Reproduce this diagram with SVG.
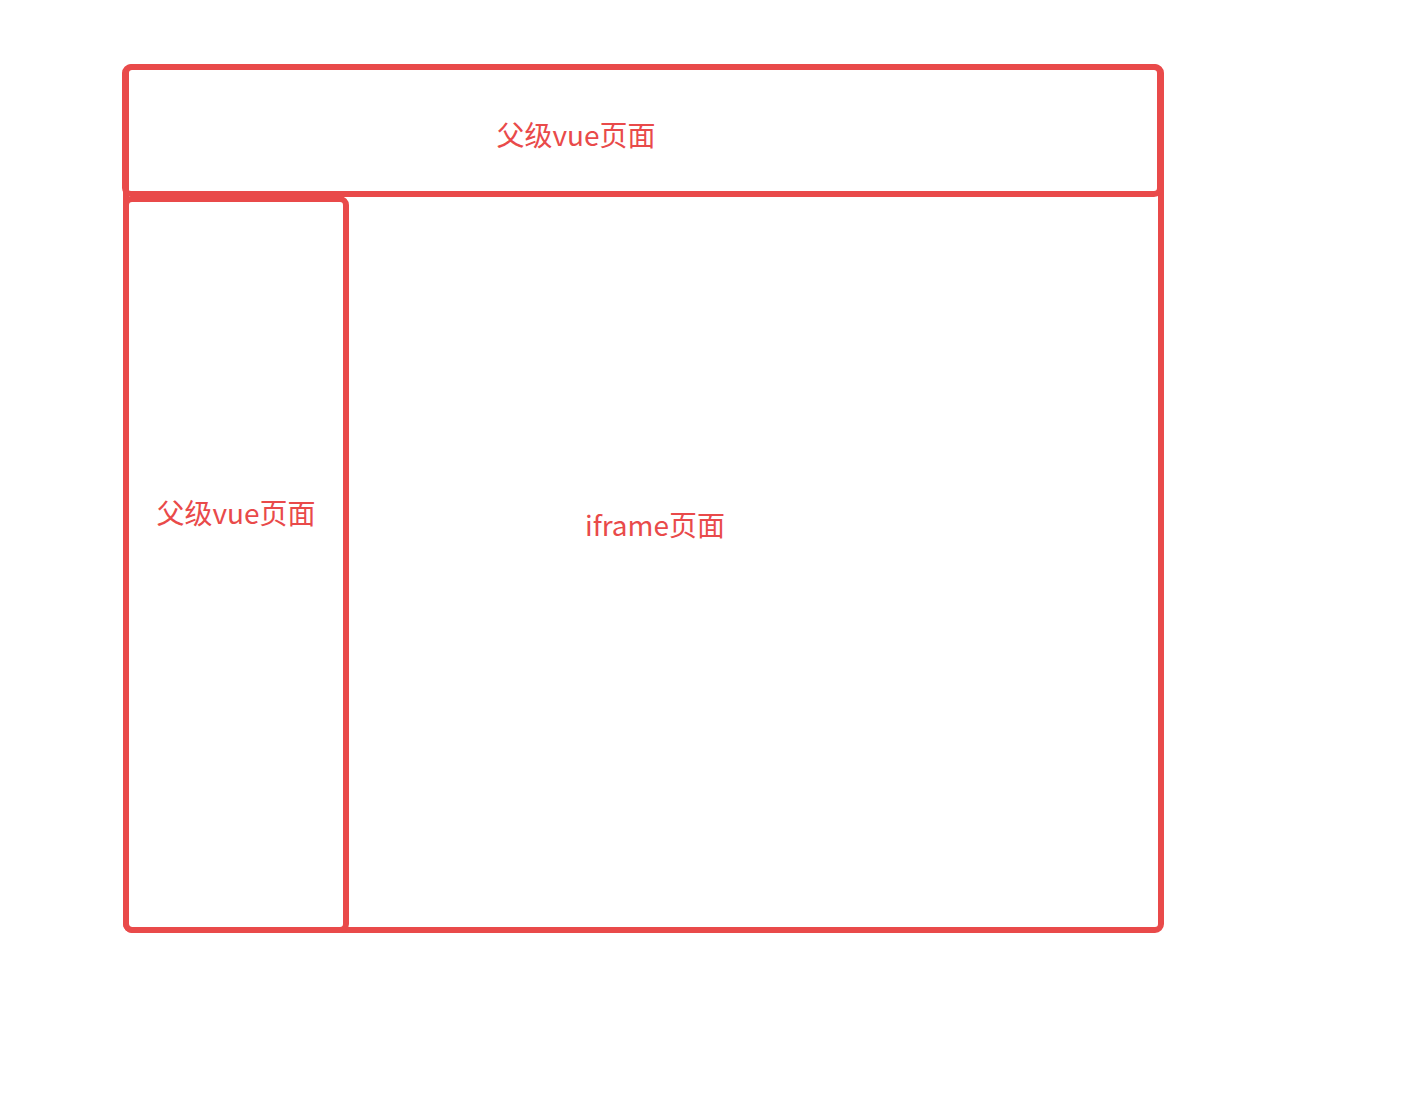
<svg xmlns="http://www.w3.org/2000/svg" width="1412" height="1110" viewBox="0 0 1412 1110">
<style>
.box{fill:none;stroke:#e94a4a;stroke-width:6}
.lbl{fill:#e94a4a;font-family:"Noto Sans CJK SC","Noto Sans",sans-serif;font-size:28px;text-anchor:middle;dominant-baseline:central}
</style>
<rect width="1412" height="1110" fill="#fff"/>
<g id="iframe">
<rect class="box" x="126" y="67" width="1035" height="863" rx="6"/>
<text class="lbl" x="655" y="524">iframe页面</text>
</g>
<g id="top">
<rect class="box" x="125" y="67" width="1035" height="127" rx="6" fill="#fff"/>
<text class="lbl" x="576" y="134">父级vue页面</text>
</g>
<g id="left">
<rect class="box" x="126" y="199" width="220" height="731" rx="6"/>
<text class="lbl" x="236" y="512">父级vue页面</text>
</g>
<g id="connectors"></g>
</svg>
